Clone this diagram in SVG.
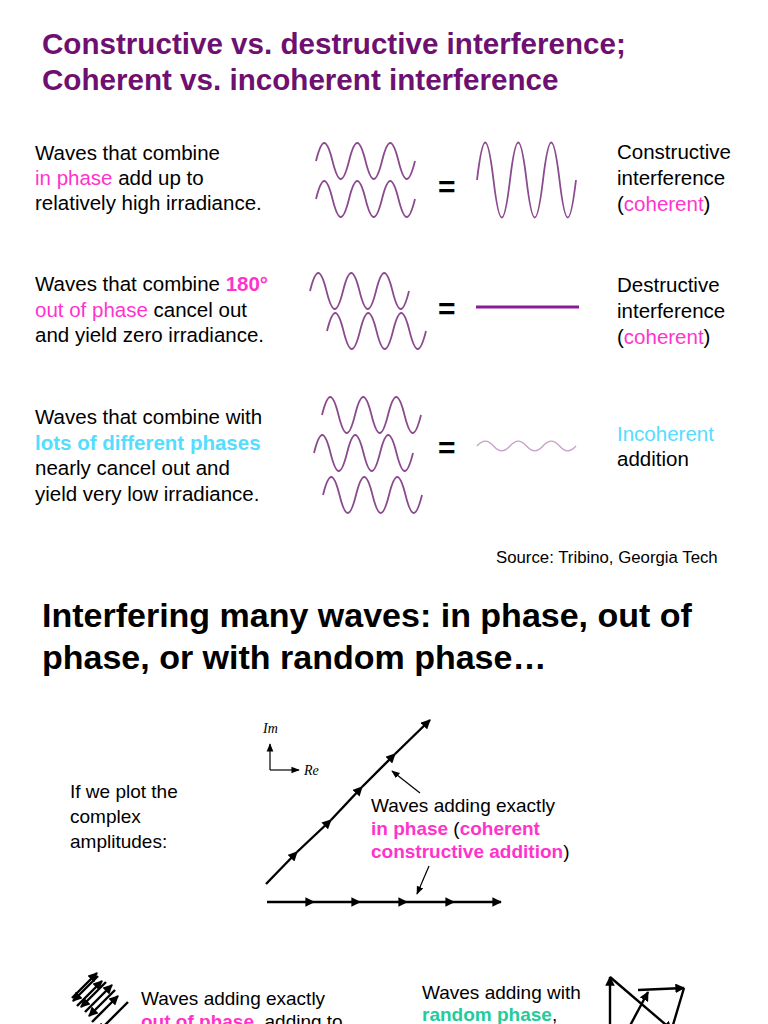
<svg xmlns="http://www.w3.org/2000/svg" width="768" height="1024" viewBox="0 0 768 1024">
<defs>
<style>
text{font-family:"Liberation Sans",Arial,sans-serif;fill:#000}
.t{font-size:29.6px;font-weight:bold;fill:#6e1070}
.b{font-size:20.5px}
.s{font-size:19px}
.m{fill:#ff33cc}
.c{fill:#55ddff}
.g{fill:#22cc99}
.w{fill:none;stroke:#8a4a8e;stroke-width:1.8}
.eq{font-size:30px;font-weight:bold}
.h{font-size:34px;font-weight:bold}
.ax{stroke:#000;stroke-width:1.2;fill:none}
.ar{stroke:#000;stroke-width:2.4;fill:none;marker-end:url(#ah)}
.it{font-family:"Liberation Serif",serif;font-style:italic;font-size:14px}
</style>
<marker id="ah" viewBox="0 0 10 10" refX="9" refY="5" markerWidth="4" markerHeight="4" orient="auto"><path d="M0,0L10,5L0,10z"/></marker>
<marker id="as" viewBox="0 0 10 10" refX="9" refY="5" markerWidth="7" markerHeight="7" orient="auto"><path d="M0,1L10,5L0,9z"/></marker>
</defs>
<text class="t" x="42" y="54">Constructive vs. destructive interference;</text>
<text class="t" x="42" y="90">Coherent vs. incoherent interference</text>

<g id="row1">
<text class="b" x="35" y="160">Waves that combine</text>
<text class="b" x="35" y="185"><tspan class="m">in phase</tspan> add up to</text>
<text class="b" x="35" y="210">relatively high irradiance.</text>
<path class="w" d="M316,161 c6,-24 10.5,-24 16.5,0 s10.5,24 16.5,0 s10.5,-24 16.5,0 s10.5,24 16.5,0 s10.5,-24 16.5,0 s10.5,24 16.5,0"/>
<path class="w" d="M316,199 c6,-24 10.5,-24 16.5,0 s10.5,24 16.5,0 s10.5,-24 16.5,0 s10.5,24 16.5,0 s10.5,-24 16.5,0 s10.5,24 16.5,0"/>
<text class="eq" x="438" y="197">=</text>
<path class="w" d="M477,180 c6,-50 10.5,-50 16.5,0 s10.5,50 16.5,0 s10.5,-50 16.5,0 s10.5,50 16.5,0 s10.5,-50 16.5,0 s10.5,50 16.5,0"/>
<text class="b" x="617" y="159">Constructive</text>
<text class="b" x="617" y="185">interference</text>
<text class="b" x="617" y="211">(<tspan class="m">coherent</tspan>)</text>
</g>

<g id="row2">
<text class="b" x="35" y="291">Waves that combine <tspan class="m" font-weight="bold">180°</tspan></text>
<text class="b" x="35" y="317"><tspan class="m">out of phase</tspan> cancel out</text>
<text class="b" x="35" y="342">and yield zero irradiance.</text>
<path class="w" d="M310,291 c6,-24 10.5,-24 16.5,0 s10.5,24 16.5,0 s10.5,-24 16.5,0 s10.5,24 16.5,0 s10.5,-24 16.5,0 s10.5,24 16.5,0"/>
<path class="w" d="M327,331 c6,-24 10.5,-24 16.5,0 s10.5,24 16.5,0 s10.5,-24 16.5,0 s10.5,24 16.5,0 s10.5,-24 16.5,0 s10.5,24 16.5,0"/>
<text class="eq" x="438" y="319">=</text>
<line x1="476" y1="307" x2="579" y2="307" stroke="#8a1a96" stroke-width="3"/>
<text class="b" x="617" y="292">Destructive</text>
<text class="b" x="617" y="318">interference</text>
<text class="b" x="617" y="344">(<tspan class="m">coherent</tspan>)</text>
</g>

<g id="row3">
<text class="b" x="35" y="424">Waves that combine with</text>
<text class="b" x="35" y="450"><tspan class="c" font-weight="bold">lots of different phases</tspan></text>
<text class="b" x="35" y="475">nearly cancel out and</text>
<text class="b" x="35" y="501">yield very low irradiance.</text>
<path class="w" d="M322,415 c6,-24 10.5,-24 16.5,0 s10.5,24 16.5,0 s10.5,-24 16.5,0 s10.5,24 16.5,0 s10.5,-24 16.5,0 s10.5,24 16.5,0"/>
<path class="w" d="M314,453 c6,-24 10.5,-24 16.5,0 s10.5,24 16.5,0 s10.5,-24 16.5,0 s10.5,24 16.5,0 s10.5,-24 16.5,0 s10.5,24 16.5,0"/>
<path class="w" d="M323,495 c6,-24 10.5,-24 16.5,0 s10.5,24 16.5,0 s10.5,-24 16.5,0 s10.5,24 16.5,0 s10.5,-24 16.5,0 s10.5,24 16.5,0"/>
<text class="eq" x="438" y="458">=</text>
<path d="M477,446 c6,-6.5 10.5,-6.5 16.5,0 s10.5,6.5 16.5,0 s10.5,-6.5 16.5,0 s10.5,6.5 16.5,0 s10.5,-6.5 16.5,0 s10.5,6.5 16.5,0" fill="none" stroke="#c8a0cc" stroke-width="1.4"/>
<text class="b" x="617" y="441"><tspan class="c">Incoherent</tspan></text>
<text class="b" x="617" y="466">addition</text>
</g>

<text x="496" y="563" font-size="16.8" fill="#333">Source: Tribino, Georgia Tech</text>

<text class="h" x="42" y="627">Interfering many waves: in phase, out of</text>
<text class="h" x="42" y="669">phase, or with random phase…</text>

<g id="axes">
<line class="ax" x1="270" y1="770" x2="270" y2="744" marker-end="url(#as)"/>
<line class="ax" x1="270" y1="770" x2="299" y2="770" marker-end="url(#as)"/>
<text class="it" x="263" y="733">Im</text>
<text class="it" x="304" y="775">Re</text>
</g>

<text class="s" x="70" y="798">If we plot the</text>
<text class="s" x="70" y="823">complex</text>
<text class="s" x="70" y="848">amplitudes:</text>

<g id="connectors">
<line class="ar" x1="266" y1="884" x2="297" y2="852"/>
<line class="ar" x1="297" y1="852" x2="331" y2="820"/>
<line class="ar" x1="331" y1="820" x2="362" y2="787"/>
<line class="ar" x1="362" y1="787" x2="395" y2="754"/>
<line class="ar" x1="395" y1="754" x2="430" y2="720"/>
<line class="ar" x1="267" y1="902" x2="314" y2="902"/>
<line class="ar" x1="314" y1="902" x2="360" y2="902"/>
<line class="ar" x1="360" y1="902" x2="407" y2="902"/>
<line class="ar" x1="407" y1="902" x2="454" y2="902"/>
<line class="ar" x1="454" y1="902" x2="501" y2="902"/>
<line class="ax" x1="420" y1="793" x2="392" y2="771" marker-end="url(#as)"/>
<line class="ax" x1="429" y1="866" x2="417" y2="894" marker-end="url(#as)"/>
</g>

<text class="s" x="371" y="812">Waves adding exactly</text>
<text class="s" x="371" y="835" font-weight="bold"><tspan class="m">in phase</tspan><tspan font-weight="normal"> (</tspan><tspan class="m">coherent</tspan></text>
<text class="s" x="371" y="858" font-weight="bold"><tspan class="m">constructive addition</tspan><tspan font-weight="normal">)</tspan></text>

<g id="outofphase">
<line class="ar" x1="72" y1="998" x2="97" y2="973"/>
<line class="ar" x1="98" y1="976" x2="73" y2="1001"/>
<line class="ar" x1="77" y1="1006" x2="102" y2="981"/>
<line class="ar" x1="106" y1="982" x2="81" y2="1007"/>
<line class="ar" x1="85" y1="1012" x2="112" y2="985"/>
<line class="ar" x1="115" y1="990" x2="89" y2="1016"/>
<line class="ar" x1="92" y1="1022" x2="118" y2="996"/>
<line class="ar" x1="128" y1="1002" x2="98" y2="1032"/>
</g>
<text class="s" x="141" y="1005">Waves adding exactly</text>
<text class="s" x="141" y="1028"><tspan class="m" font-weight="bold">out of phase</tspan>, adding to</text>

<text class="s" x="422" y="999">Waves adding with</text>
<text class="s" x="422" y="1021"><tspan class="g" font-weight="bold">random phase</tspan>,</text>

<g id="random">
<line class="ar" x1="610" y1="1035" x2="610" y2="977"/>
<line class="ar" x1="610" y1="977" x2="672" y2="1030"/>
<line class="ar" x1="638" y1="990" x2="684" y2="988"/>
<line class="ar" x1="684" y1="988" x2="670" y2="1035"/>
<line class="ar" x1="625" y1="1035" x2="648" y2="992"/>
</g>
</svg>
